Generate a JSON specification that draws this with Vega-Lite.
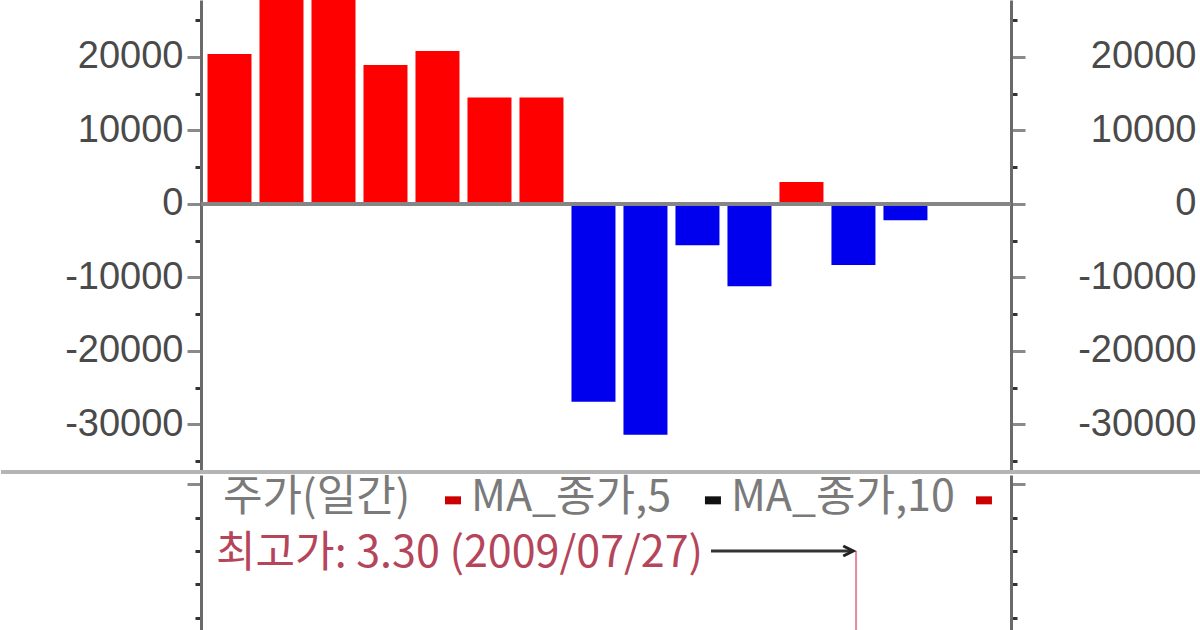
{
  "$schema": "https://vega.github.io/schema/vega-lite/v6.json",
  "padding": 0,
  "background": "white",
  "config": {"view": {"stroke": null}, "axis": {"grid": false}},
  "spacing": 0,
  "datasets": {
    "flow": [
      {"idx": 1, "value": 20400},
      {"idx": 2, "value": 30000},
      {"idx": 3, "value": 30000},
      {"idx": 4, "value": 18900},
      {"idx": 5, "value": 20800},
      {"idx": 6, "value": 14500},
      {"idx": 7, "value": 14500},
      {"idx": 8, "value": -26900},
      {"idx": 9, "value": -31400},
      {"idx": 10, "value": -5600},
      {"idx": 11, "value": -11200},
      {"idx": 12, "value": 3000},
      {"idx": 13, "value": -8300},
      {"idx": 14, "value": -2200}
    ]
  },
  "vconcat": [
    {
      "width": 810,
      "height": 472,
      "data": {"name": "flow"},
      "layer": [
        {
          "mark": {"type": "bar", "width": 44, "clip": true},
          "encoding": {
            "x": {"field": "idx", "type": "quantitative", "scale": {"domain": [0.452, 16.03], "zero": false, "nice": false, "padding": 0}, "axis": null},
            "y": {
              "field": "value", "type": "quantitative",
              "scale": {"domain": [-36463, 27755], "zero": false, "nice": false, "padding": 0},
              "axis": {
                "orient": "left", "title": null,
                "values": [-35000, -30000, -25000, -20000, -15000, -10000, -5000, 0, 5000, 10000, 15000, 20000, 25000],
                "format": "d",
                "labelExpr": "datum.value % 10000 === 0 ? replace(datum.label, '\u2212', '-') : ''",
                "domainColor": "#6a6a6a", "domainWidth": 3,
                "tickWidth": 3,
                "tickSize": {"condition": {"test": "datum.value % 10000 === 0", "value": 14}, "value": 6},
                "tickColor": {"condition": {"test": "datum.value % 10000 === 0", "value": "#8a8a8a"}, "value": "#333333"},
                "labelFont": "Liberation Sans", "labelFontSize": 38, "labelColor": "#4a4a4a", "labelPadding": 4
              }
            },
            "color": {"condition": {"test": "datum.value >= 0", "value": "#ff0000"}, "value": "#0000ee"}
          }
        },
        {
          "mark": {"type": "rule", "color": "#858585", "strokeWidth": 3},
          "encoding": {
            "y": {
              "datum": 0, "type": "quantitative",
              "scale": {"domain": [-36463, 27755], "zero": false, "nice": false, "padding": 0},
              "axis": {
                "orient": "right", "title": null,
                "values": [-35000, -30000, -25000, -20000, -15000, -10000, -5000, 0, 5000, 10000, 15000, 20000, 25000],
                "format": "d",
                "labelExpr": "datum.value % 10000 === 0 ? replace(datum.label, '\u2212', '-') : ''",
                "domainColor": "#6a6a6a", "domainWidth": 3,
                "tickWidth": 3,
                "tickSize": {"condition": {"test": "datum.value % 10000 === 0", "value": 14}, "value": 6},
                "tickColor": {"condition": {"test": "datum.value % 10000 === 0", "value": "#8a8a8a"}, "value": "#333333"},
                "labelFont": "Liberation Sans", "labelFontSize": 38, "labelColor": "#4a4a4a",
                "labelAlign": "right", "labelPadding": 171
              }
            }
          }
        },
        {
          "mark": {"type": "rule", "color": "#b4b4b4", "strokeWidth": 4, "strokeCap": "square", "clip": false},
          "encoding": {
            "y": {"datum": -36463, "type": "quantitative", "scale": {"domain": [-36463, 27755], "zero": false, "nice": false, "padding": 0}, "axis": null},
            "x": {"datum": -3.356, "type": "quantitative", "scale": {"domain": [0.452, 16.03], "zero": false, "nice": false, "padding": 0}, "axis": null},
            "x2": {"datum": 19.683}
          }
        }
      ],
      "resolve": {"axis": {"y": "independent"}}
    },
    {
      "width": 810,
      "height": 158,
      "data": {"values": [{}]},
      "layer": [
        {
          "mark": {"type": "rule", "color": "#e58aa0", "strokeWidth": 2, "clip": true},
          "encoding": {
            "x": {"datum": 13.05, "type": "quantitative", "scale": {"domain": [0.452, 16.03], "zero": false, "nice": false, "padding": 0}, "axis": null},
            "y": {
              "datum": 3.30, "type": "quantitative",
              "scale": {"domain": [3.177, 3.414], "zero": false, "nice": false, "padding": 0},
              "axis": {
                "orient": "left", "title": null, "labels": false,
                "values": [3.20, 3.25, 3.30, 3.35, 3.40],
                "domainColor": "#6a6a6a", "domainWidth": 3, "tickWidth": 3,
                "tickSize": {"condition": {"test": "datum.value > 3.39", "value": 14}, "value": 6},
                "tickColor": {"condition": {"test": "datum.value > 3.39", "value": "#8a8a8a"}, "value": "#333333"}
              }
            },
            "y2": {"datum": 3.0}
          }
        },
        {
          "mark": {"type": "rule", "color": "#333333", "strokeWidth": 3},
          "encoding": {
            "x": {"datum": 10.26, "type": "quantitative", "scale": {"domain": [0.452, 16.03], "zero": false, "nice": false, "padding": 0}, "axis": null},
            "x2": {"datum": 12.95},
            "y": {
              "datum": 3.30, "type": "quantitative",
              "scale": {"domain": [3.177, 3.414], "zero": false, "nice": false, "padding": 0},
              "axis": {
                "orient": "right", "title": null, "labels": false,
                "values": [3.20, 3.25, 3.30, 3.35, 3.40],
                "domainColor": "#6a6a6a", "domainWidth": 3, "tickWidth": 3,
                "tickSize": {"condition": {"test": "datum.value > 3.39", "value": 14}, "value": 6},
                "tickColor": {"condition": {"test": "datum.value > 3.39", "value": "#8a8a8a"}, "value": "#333333"}
              }
            }
          }
        },
        {
          "mark": {"type": "point", "shape": "M-1,-1L1,0L-1,1", "filled": false, "strokeWidth": 3, "color": "#222222", "size": 100, "opacity": 1},
          "encoding": {
            "x": {"datum": 12.9, "type": "quantitative"},
            "y": {"datum": 3.30, "type": "quantitative", "axis": null}
          }
        },
        {
          "mark": {"type": "text", "align": "left", "baseline": "middle", "font": "Noto Sans CJK KR", "fontSize": 43, "color": "#7a7a7a", "text": "주가(일간)"},
          "encoding": {
            "x": {"datum": 0.875, "type": "quantitative"},
            "y": {"datum": 3.3795, "type": "quantitative", "axis": null}
          }
        },
        {
          "mark": {"type": "text", "align": "left", "baseline": "middle", "font": "Noto Sans CJK KR", "fontSize": 43, "color": "#7a7a7a", "text": "MA_종가,5"},
          "encoding": {
            "x": {"datum": 5.644, "type": "quantitative"},
            "y": {"datum": 3.3795, "type": "quantitative", "axis": null}
          }
        },
        {
          "mark": {"type": "text", "align": "left", "baseline": "middle", "font": "Noto Sans CJK KR", "fontSize": 43, "color": "#7a7a7a", "text": "MA_종가,10"},
          "encoding": {
            "x": {"datum": 10.644, "type": "quantitative"},
            "y": {"datum": 3.3795, "type": "quantitative", "axis": null}
          }
        },
        {
          "mark": {"type": "point", "shape": "M-1,-0.5L1,-0.5L1,0.5L-1,0.5Z", "filled": true, "color": "#cc0000", "size": 256, "opacity": 1},
          "encoding": {
            "x": {"datum": 5.298, "type": "quantitative"},
            "y": {"datum": 3.376, "type": "quantitative", "axis": null}
          }
        },
        {
          "mark": {"type": "point", "shape": "M-1,-0.5L1,-0.5L1,0.5L-1,0.5Z", "filled": true, "color": "#111111", "size": 256, "opacity": 1},
          "encoding": {
            "x": {"datum": 10.298, "type": "quantitative"},
            "y": {"datum": 3.376, "type": "quantitative", "axis": null}
          }
        },
        {
          "mark": {"type": "point", "shape": "M-1,-0.5L1,-0.5L1,0.5L-1,0.5Z", "filled": true, "color": "#cc0000", "size": 256, "opacity": 1},
          "encoding": {
            "x": {"datum": 15.51, "type": "quantitative"},
            "y": {"datum": 3.376, "type": "quantitative", "axis": null}
          }
        },
        {
          "mark": {"type": "text", "align": "left", "baseline": "middle", "font": "Noto Sans CJK KR", "fontSize": 43, "color": "#b5455a", "text": "최고가: 3.30 (2009/07/27)"},
          "encoding": {
            "x": {"datum": 0.74, "type": "quantitative"},
            "y": {"datum": 3.2955, "type": "quantitative", "axis": null}
          }
        }
      ],
      "resolve": {"axis": {"y": "independent"}}
    }
  ]
}
